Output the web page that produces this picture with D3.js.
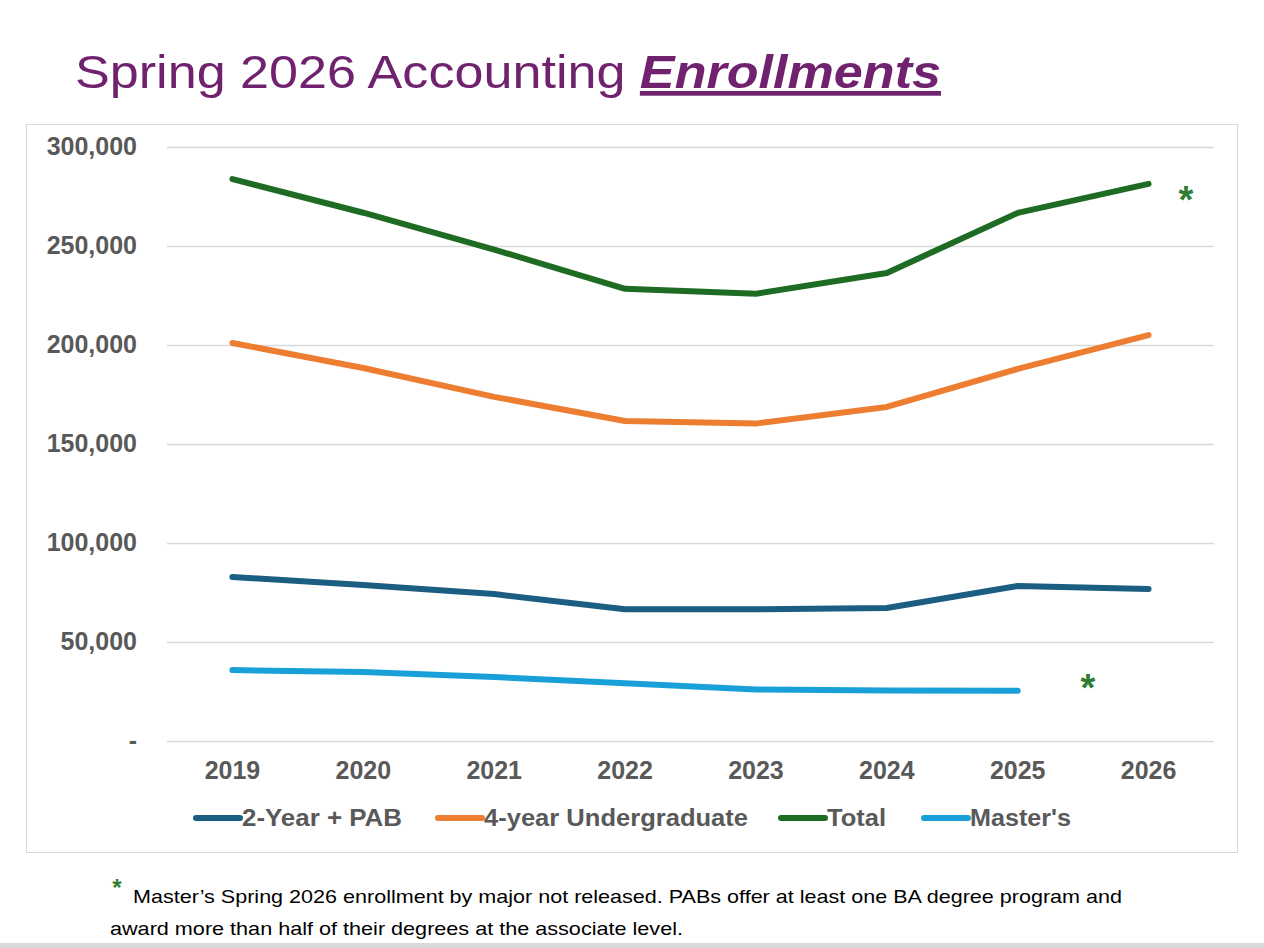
<!DOCTYPE html>
<html><head><meta charset="utf-8">
<script src="https://cdn.jsdelivr.net/npm/d3@7"></script>
<style>body{margin:0;background:#fff;} text{font-family:"Liberation Sans",Arial,sans-serif;}</style>
</head><body>
<svg id="c" width="1264" height="948"></svg>
<script>
const years = ["2019","2020","2021","2022","2023","2024","2025","2026"];
const twoYear = [82800, 78800, 74200, 66500, 66500, 67200, 78300, 76800];
const fourYear = [201000, 188400, 173800, 161600, 160300, 168700, 187900, 205000];
const total = [283800, 266800, 248200, 228400, 225900, 236400, 266700, 281400];
const masters = [35800, 34800, 32300, 29200, 26000, 25500, 25400, null];
const yTicks = [0, 50000, 100000, 150000, 200000, 250000, 300000];
const seriesNames = ["2-Year + PAB", "4-year Undergraduate", "Total", "Master's"];
const seriesColors = ["#1B5E82", "#ED7D31", "#1E6B24", "#1AA0D8"];

const svg = d3.select("#c");
// title
const t = svg.append("text").attr("x", 75).attr("y", 88).attr("fill", "#70226F").attr("font-size", 47);
t.append("tspan").text("Spring 2026 Accounting ");
t.append("tspan").attr("font-weight", "bold").attr("font-style", "italic").attr("text-decoration", "underline").text("Enrollments");
t.attr("textLength", 866).attr("lengthAdjust", "spacingAndGlyphs");

// frame
svg.append("rect").attr("x", 26.5).attr("y", 124.5).attr("width", 1211).attr("height", 728)
  .attr("fill", "#fff").attr("stroke", "#d9d9d9").attr("stroke-width", 1);

const x = d3.scaleBand().domain(years).range([167, 1214]);
const y = d3.scaleLinear().domain([0, 300000]).range([741, 147]);

// grid
svg.append("g").selectAll("line").data(yTicks).join("line")
  .attr("x1", 167).attr("x2", 1214).attr("y1", d => y(d) + 0.5).attr("y2", d => y(d) + 0.5)
  .attr("stroke", "#d9d9d9").attr("stroke-width", 1.3);

// y axis labels
const yAxis = d3.axisLeft(y).tickValues(yTicks).tickSize(0).tickPadding(0)
  .tickFormat(d => d === 0 ? "-" : d3.format(",")(d));
const ya = svg.append("g").attr("transform", "translate(137,0)").call(yAxis);
ya.select(".domain").remove();
ya.selectAll("text").attr("font-size", 25).attr("font-weight", "bold").attr("fill", "#595959")
  .attr("font-family", "Liberation Sans, Arial, sans-serif").attr("dy", "0.3em");

// x axis labels
const xAxis = d3.axisBottom(x).tickSize(0).tickPadding(0);
const xa = svg.append("g").attr("transform", "translate(0,770)").call(xAxis);
xa.select(".domain").remove();
xa.selectAll("text").attr("font-size", 25).attr("font-weight", "bold").attr("fill", "#595959")
  .attr("font-family", "Liberation Sans, Arial, sans-serif").attr("y", 0).attr("dy", "0.35em");

const cx = d => x(d) + x.bandwidth() / 2;
const line = d3.line().defined(d => d[1] != null).x(d => cx(d[0])).y(d => y(d[1]));
const data = [twoYear, fourYear, total, masters];
data.forEach((vals, i) => {
  svg.append("path").datum(years.map((yr, j) => [yr, vals[j]]))
    .attr("d", line).attr("fill", "none").attr("stroke", seriesColors[i])
    .attr("stroke-width", 6).attr("stroke-linecap", "round").attr("stroke-linejoin", "round");
});

// asterisks
svg.append("text").attr("x", 1186).attr("y", 213).attr("text-anchor", "middle").attr("font-size", 38)
  .attr("font-weight", "bold").attr("fill", "#2E7D32").text("*");
svg.append("text").attr("x", 1088).attr("y", 701).attr("text-anchor", "middle").attr("font-size", 38)
  .attr("font-weight", "bold").attr("fill", "#2E7D32").text("*");

// legend
const legX = [196, 438, 781, 924];
const legW = [160, 264, 59, 101];
seriesNames.forEach((n, i) => {
  svg.append("line").attr("x1", legX[i]).attr("x2", legX[i] + 44).attr("y1", 818).attr("y2", 818)
    .attr("stroke", seriesColors[i]).attr("stroke-width", 6).attr("stroke-linecap", "round");
  svg.append("text").attr("x", legX[i] + 46).attr("y", 826).attr("font-size", 23).attr("font-weight", "bold")
    .attr("fill", "#595959").attr("textLength", legW[i]).attr("lengthAdjust", "spacingAndGlyphs").text(n);
});

// footnote
svg.append("text").attr("x", 117).attr("y", 896).attr("text-anchor", "middle").attr("font-size", 24)
  .attr("font-weight", "bold").attr("fill", "#2E7D32").text("*");
svg.append("text").attr("x", 133).attr("y", 903).attr("font-size", 19).attr("fill", "#000")
  .attr("textLength", 989).attr("lengthAdjust", "spacingAndGlyphs")
  .text("Master’s Spring 2026 enrollment by major not released. PABs offer at least one BA degree program and");
svg.append("text").attr("x", 110).attr("y", 935).attr("font-size", 19).attr("fill", "#000")
  .attr("textLength", 573).attr("lengthAdjust", "spacingAndGlyphs")
  .text("award more than half of their degrees at the associate level.");
svg.append("rect").attr("x", 0).attr("y", 943).attr("width", 1264).attr("height", 5).attr("fill", "#d9d9d9");
</script>
</body></html>
